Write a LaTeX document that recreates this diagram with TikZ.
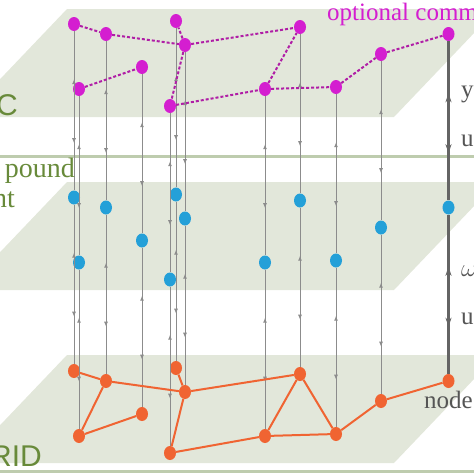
\documentclass[tikz,border=0pt]{standalone}
\usepackage{fontspec}
\setmainfont{Liberation Serif}
\newfontfamily\layerfont{Liberation Sans}
\usetikzlibrary{arrows.meta,decorations.markings,shapes.geometric}
\definecolor{planefill}{RGB}{226,231,218}
\definecolor{sepgreen}{RGB}{190,204,174}
\definecolor{layergreen}{RGB}{104,138,58}
\definecolor{symbmag}{RGB}{212,30,208}
\definecolor{dashmag}{RGB}{176,30,166}
\definecolor{compblue}{RGB}{36,160,216}
\definecolor{hyborange}{RGB}{240,100,50}
\definecolor{linkgray}{RGB}{140,140,140}
\definecolor{trunkgray}{RGB}{100,100,100}
\definecolor{textgray}{RGB}{85,85,85}

\begin{document}
\begin{tikzpicture}[x=1pt, y=-1pt,
    vertex/.style={ellipse, minimum width=12pt, minimum height=14pt, inner sep=0pt},
    symb/.style={vertex, fill=symbmag},
    comp/.style={vertex, fill=compblue},
    hyb/.style={vertex, fill=hyborange},
    symblink/.style={draw=dashmag, line width=2pt, dash pattern=on 3pt off 2pt},
    hyblink/.style={draw=hyborange, line width=2pt},
    updown/.style={postaction={decorate, decoration={markings,
        mark=at position 48pt with {\arrowreversed{Latex[length=5pt,width=4pt]}},
        mark=at position 112pt with {\arrow{Latex[length=5pt,width=4pt]}}}}},
    link/.style={draw=linkgray, line width=1pt, updown},
    trunk/.style={draw=trunkgray, line width=2.2pt, postaction={decorate, decoration={markings,
        mark=at position 52pt with {\arrowreversed{Stealth[length=9pt,width=6pt]}},
        mark=at position 112pt with {\arrow{Stealth[length=9pt,width=6pt]}}}}},
    serif/.style={inner sep=0pt, font=\fontsize{25}{29}\selectfont},
    compfont/.style={inner sep=0pt, text=layergreen, font=\fontsize{28}{32}\selectfont},
    layername/.style={inner sep=0pt, text=layergreen, font=\layerfont\fontsize{30}{34}\selectfont}]
    \useasboundingbox (0,0) rectangle (474,474);
    \clip (0,0) rectangle (474,474);

    % Layer planes
    \foreach \dy in {0,173,346} {
        \fill[planefill] (67,{9+\dy}) -- (497,{9+\dy}) -- (394,{117+\dy}) -- (-36,{117+\dy}) -- cycle;
    }
    \draw[sepgreen, line width=3pt] (0,156) -- (474,156);
    \draw[sepgreen, line width=3pt] (0,471) -- (474,471);

    % Nodes, one column per element, same x in every layer
    \foreach \i/\x/\y in {1/74/24, 2/79/89, 3/106/34, 4/142/67, 5/170/106, 6/176/21,
                          7/185/45, 8/265/89, 9/300/27, 10/336/87, 11/381/54, 12/448.5/34} {
        \node[symb] (m\i) at (\x,\y) {};
        \node[comp] (b\i) at (\x,{\y+173.5}) {};
        \node[hyb] (o\i) at (\x,{\y+347}) {};
    }

    % Links between layers
    \foreach \i in {1,...,11} {
        \draw[link] (m\i) -- (b\i);
        \draw[link] (b\i) -- (o\i);
    }
    \draw[trunk] (m12) -- (b12);
    \draw[trunk] (b12) -- (o12);

    % Optional connections (top) and grid lines (bottom)
    \foreach \a/\b in {1/3, 3/7, 7/6, 7/5, 7/9, 2/4, 5/8, 8/9, 8/10, 10/11, 11/12}
        \draw[symblink] (m\a) -- (m\b);
    \foreach \a/\b in {1/3, 3/7, 6/7, 3/2, 2/4, 7/5, 7/9, 5/8, 8/9, 9/10, 8/10, 10/11, 11/12}
        \draw[hyblink] (o\a) -- (o\b);

    % Labels
    \node[serif, text=symbmag, anchor=base west] (optlabel) at (327,20) {optional comm};
    \node[serif, text=textgray, anchor=base west] (ylabel) at (461,97) {y};
    \node[serif, text=textgray, anchor=base west] (ulabel) at (461,146) {u};
    \node[serif, text=textgray, anchor=base west] (wlabel) at (461,276) {$\omega$};
    \node[serif, text=textgray, anchor=base west] (ulabelb) at (461,324) {u};
    \node[serif, text=textgray, anchor=base west] (nodelabel) at (424,408) {node};
    \node[layername, anchor=base east] (symbname) at (18,115) {C};
    \node[compfont, anchor=base east] (compname) at (75,177) {pound};
    \node[compfont, anchor=base east] (compnameb) at (15,207) {nt};
    \node[layername, anchor=base east] (hybname) at (42,466) {RID};
\end{tikzpicture}
\end{document}
